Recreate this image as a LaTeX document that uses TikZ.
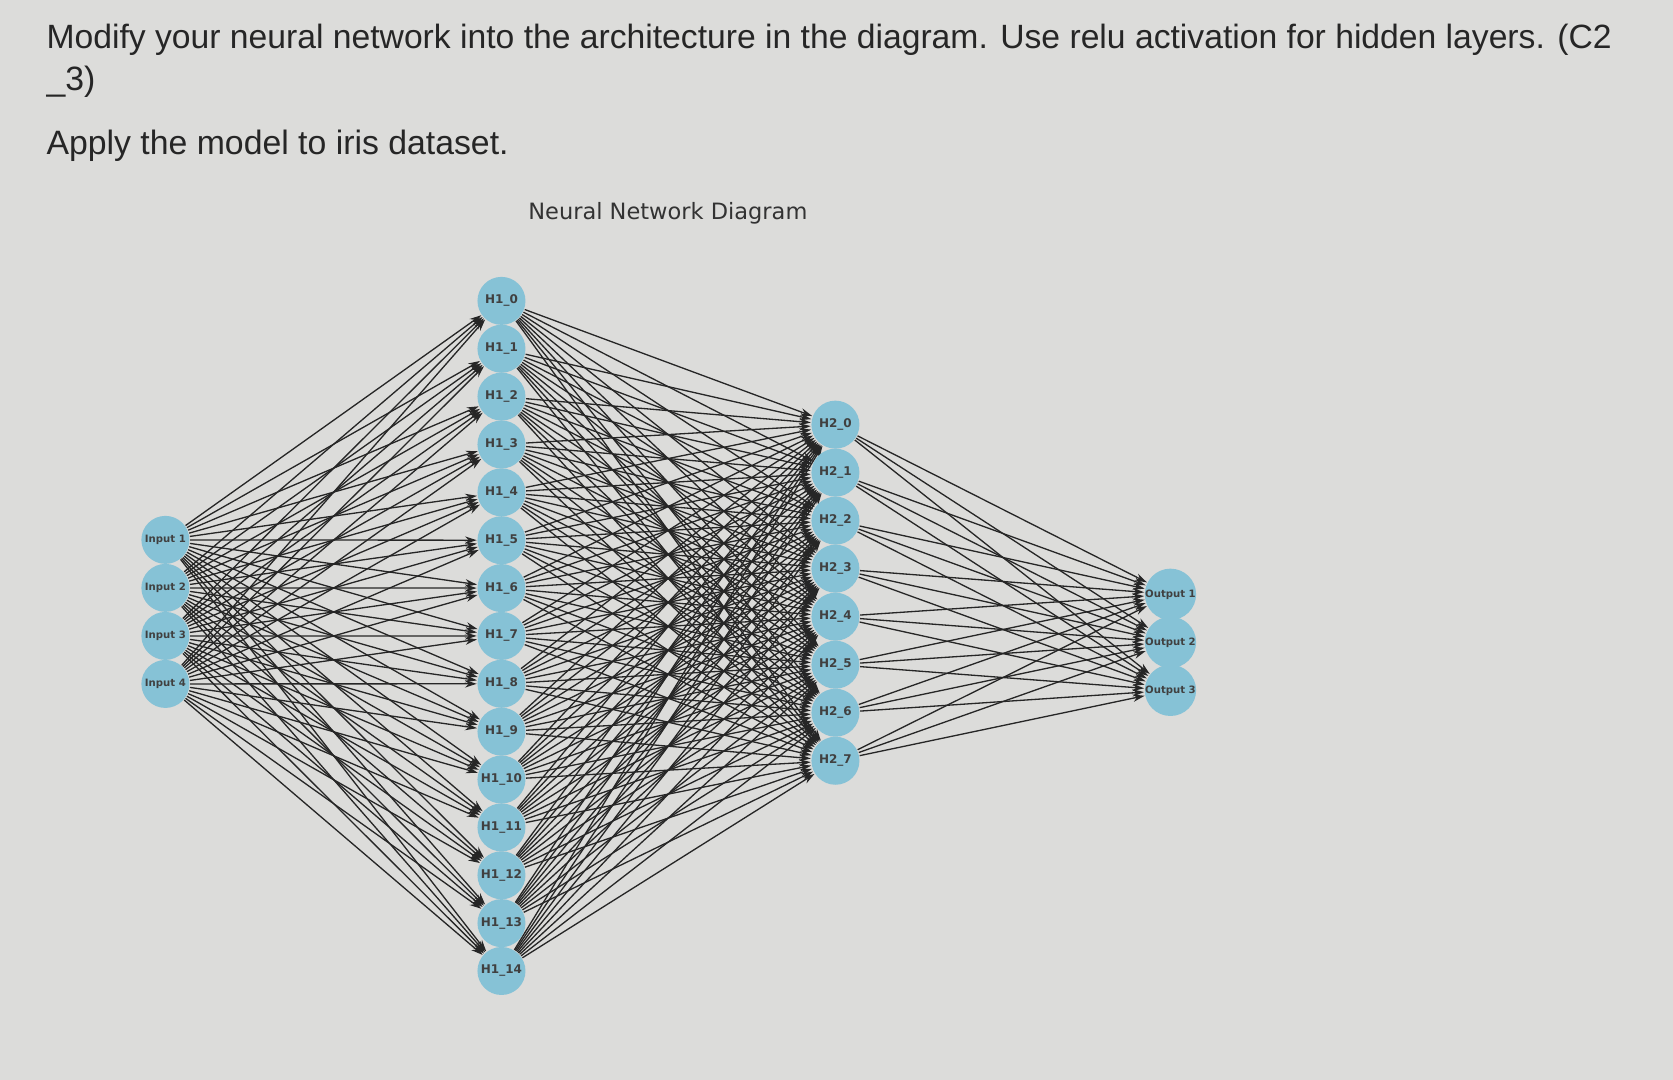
\documentclass[tikz,border=0pt]{standalone}
\usepackage{fontspec}
\usetikzlibrary{arrows.meta}
\setmainfont{Liberation Sans}
\newfontfamily\dv{DejaVu Sans}
\definecolor{bg}{HTML}{DCDCDA}
\definecolor{nodec}{HTML}{86C2D6}
\pgfdeclarelayer{bgl}\pgfdeclarelayer{edges}\pgfsetlayers{bgl,edges,main}
\begin{document}
\begin{tikzpicture}[x=0.1mm,y=-0.1mm,
  neuron/.style={circle,fill=nodec,minimum size=4.5mm,inner sep=0pt,font=\dv\bfseries\fontsize{3.2}{3.5}\selectfont,text=black!75},
  outn/.style={neuron,font=\dv\bfseries\fontsize{2.7}{3}\selectfont},
  edge/.style={black!85,line width=0.35pt,-{Stealth[length=1.1mm,width=0.7mm]}}]
\begin{pgfonlayer}{bgl}
\fill[bg] (0,0) rectangle (1568,1012);
\end{pgfonlayer}
\useasboundingbox (0,0) rectangle (1568,1012);
\node[anchor=west,inner sep=0pt,text=black!85] (t1) at (43,37) {\resizebox{146.7mm}{!}{Modify your neural network into the architecture in the diagram. Use relu activation for hidden layers. (C2}};
\node[anchor=west,inner sep=0pt,text=black!85,font=\fontsize{9}{10}\selectfont] (t2) at (43,77) {\_3)};
\node[anchor=west,inner sep=0pt,text=black!85] (t3) at (43,137) {\resizebox{43.3mm}{!}{Apply the model to iris dataset.}};
\node[font=\dv\fontsize{6}{7}\selectfont,text=black!80] (title) at (626,200) {Neural Network Diagram};
\foreach \i in {1,...,4} \node[outn] (in\i) at (155,{506+45*(\i-1)}) {Input \i};
\foreach \i in {0,...,14} \node[neuron] (h\i) at (470,{282+44.86*\i}) {H1\_\i};
\foreach \i in {0,...,7} \node[neuron] (g\i) at (783,{398+45*\i}) {H2\_\i};
\foreach \i in {1,...,3} \node[outn] (o\i) at (1097,{557+45*(\i-1)}) {Output \i};
\begin{pgfonlayer}{edges}
\foreach \a in {1,...,4} \foreach \b in {0,...,14} \draw[edge] (in\a) -- (h\b);
\foreach \a in {0,...,14} \foreach \b in {0,...,7} \draw[edge] (h\a) -- (g\b);
\foreach \a in {0,...,7} \foreach \b in {1,...,3} \draw[edge] (g\a) -- (o\b);
\end{pgfonlayer}
\end{tikzpicture}
\end{document}
